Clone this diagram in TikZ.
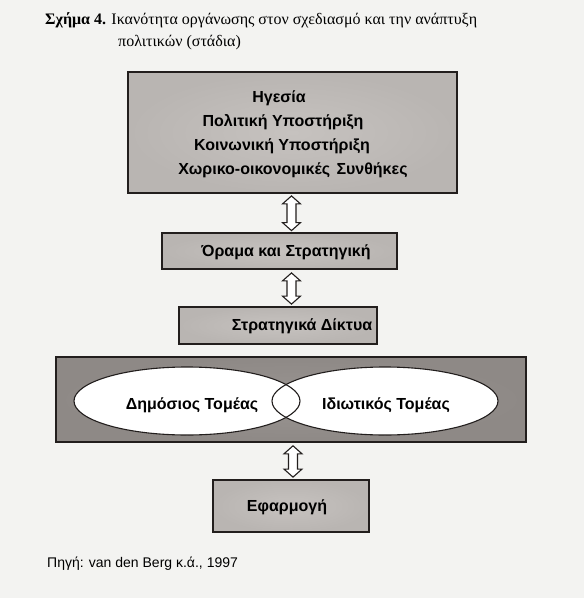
\documentclass[tikz,border=0pt]{standalone}
\usepackage{fontspec}
\setmainfont{Liberation Serif}
\newfontfamily\arialf{Liberation Sans}
\usetikzlibrary{calc,shapes.geometric}
\definecolor{bgc}{HTML}{F3F3F1}
\definecolor{boxc}{HTML}{B9B5B2}
\definecolor{boxl}{HTML}{C6C2BF}
\definecolor{bigc}{HTML}{8E8986}
\definecolor{bigl}{HTML}{9A9592}
\definecolor{edgec}{HTML}{221E1D}
\tikzset{
  box/.style={draw=edgec, line width=1.8pt, inner color=boxl, outer color=boxc, rectangle, inner sep=0pt},
  bigbox/.style={draw=edgec, line width=1.6pt, inner color=bigl, outer color=bigc, rectangle, inner sep=0pt},
  oval/.style={draw=edgec, line width=1.1pt, ellipse, fill=white, inner sep=0pt, minimum width=226pt, minimum height=68pt},
  boxtext/.style={font=\arialf\bfseries\fontsize{16}{18}\selectfont, text=black, inner sep=0pt, anchor=center},
  arr/.style={draw=edgec, line width=1.1pt, fill=white, line join=miter},
}
\newcommand\hollowdbl[2]{%
  \draw[arr] (#1) -- ($(#1)+(9,8)$) -- ($(#1)+(4.5,8)$) -- ($(#2)+(4.5,-8)$) -- ($(#2)+(9,-8)$) -- (#2)
    -- ($(#2)+(-9,-8)$) -- ($(#2)+(-4.5,-8)$) -- ($(#1)+(-4.5,8)$) -- ($(#1)+(-9,8)$) -- cycle;}
\begin{document}
\begin{tikzpicture}[x=1pt,y=-1pt]
\fill[bgc] (0,0) rectangle (584,598);
\useasboundingbox (0,0) rectangle (584,598);
% title
\node[anchor=west, inner sep=0pt, font=\fontsize{16}{18}\selectfont] (t1) at (45,20) {\textbf{Σχήμα 4.} Ικανότητα οργάνωσης στον σχεδιασμό και την ανάπτυξη};
\node[anchor=west, inner sep=0pt, font=\fontsize{16}{18}\selectfont] (t2) at (118,43) {πολιτικών (στάδια)};
% top box
\node[box, minimum width=329pt, minimum height=121pt] (top) at (292.5,132.5) {};
\node[boxtext] (l1) at (279,98) {Ηγεσία};
\node[boxtext] (l2) at (283,122) {Πολιτική Υποστήριξη};
\node[boxtext] (l3) at (282,146) {Κοινωνική Υποστήριξη};
\node[boxtext] (l4) at (293,170) {Χωρικο-οικονομικές\hspace{2pt} Συνθήκες};
% vision box
\node[box, minimum width=235pt, minimum height=36pt] (vis) at (279.5,251) {};
\node[boxtext] (vist) at (286,252) {Όραμα και Στρατηγική};
% networks box
\node[box, minimum width=198pt, minimum height=37pt] (net) at (278,325.5) {};
\node[boxtext] (nett) at (302,326) {Στρατηγικά Δίκτυα};
% big box with sectors
\node[bigbox, minimum width=470pt, minimum height=85pt] (big) at (291,399.5) {};
\node[oval] (pub) at (187,401) {};
\node[oval] (pri) at (385,401) {};
\begin{scope}
  \clip (385,401) ellipse [x radius=113pt, y radius=34pt];
  \draw[edgec, line width=1.1pt] (187,401) ellipse [x radius=113pt, y radius=34pt];
\end{scope}
\node[boxtext] (pubt) at (192,405) {Δημόσιος Τομέας};
\node[boxtext] (prit) at (386,405) {Ιδιωτικός Τομέας};
% implementation box
\node[box, minimum width=156pt, minimum height=52pt] (imp) at (291,506) {};
\node[boxtext] (impt) at (287,507) {Εφαρμογή};
% arrows
\coordinate (a1t) at ($(top.south)+(-1,2)$);
\coordinate (a1b) at ($(vis.north -| a1t)+(0,-1.5)$);
\hollowdbl{a1t}{a1b}
\coordinate (a2t) at ($(vis.south -| a1t)+(0,3)$);
\coordinate (a2b) at ($(net.north -| a1t)+(0,-2)$);
\hollowdbl{a2t}{a2b}
\coordinate (a3t) at ($(big.south)+(2,3)$);
\coordinate (a3b) at ($(imp.north -| a3t)+(0,-2)$);
\hollowdbl{a3t}{a3b}
% source
\node[anchor=west, inner sep=0pt, font=\arialf\fontsize{14}{16}\selectfont] (src) at (47,564) {Πηγή: van den Berg κ.ά., 1997};
\end{tikzpicture}
\end{document}
